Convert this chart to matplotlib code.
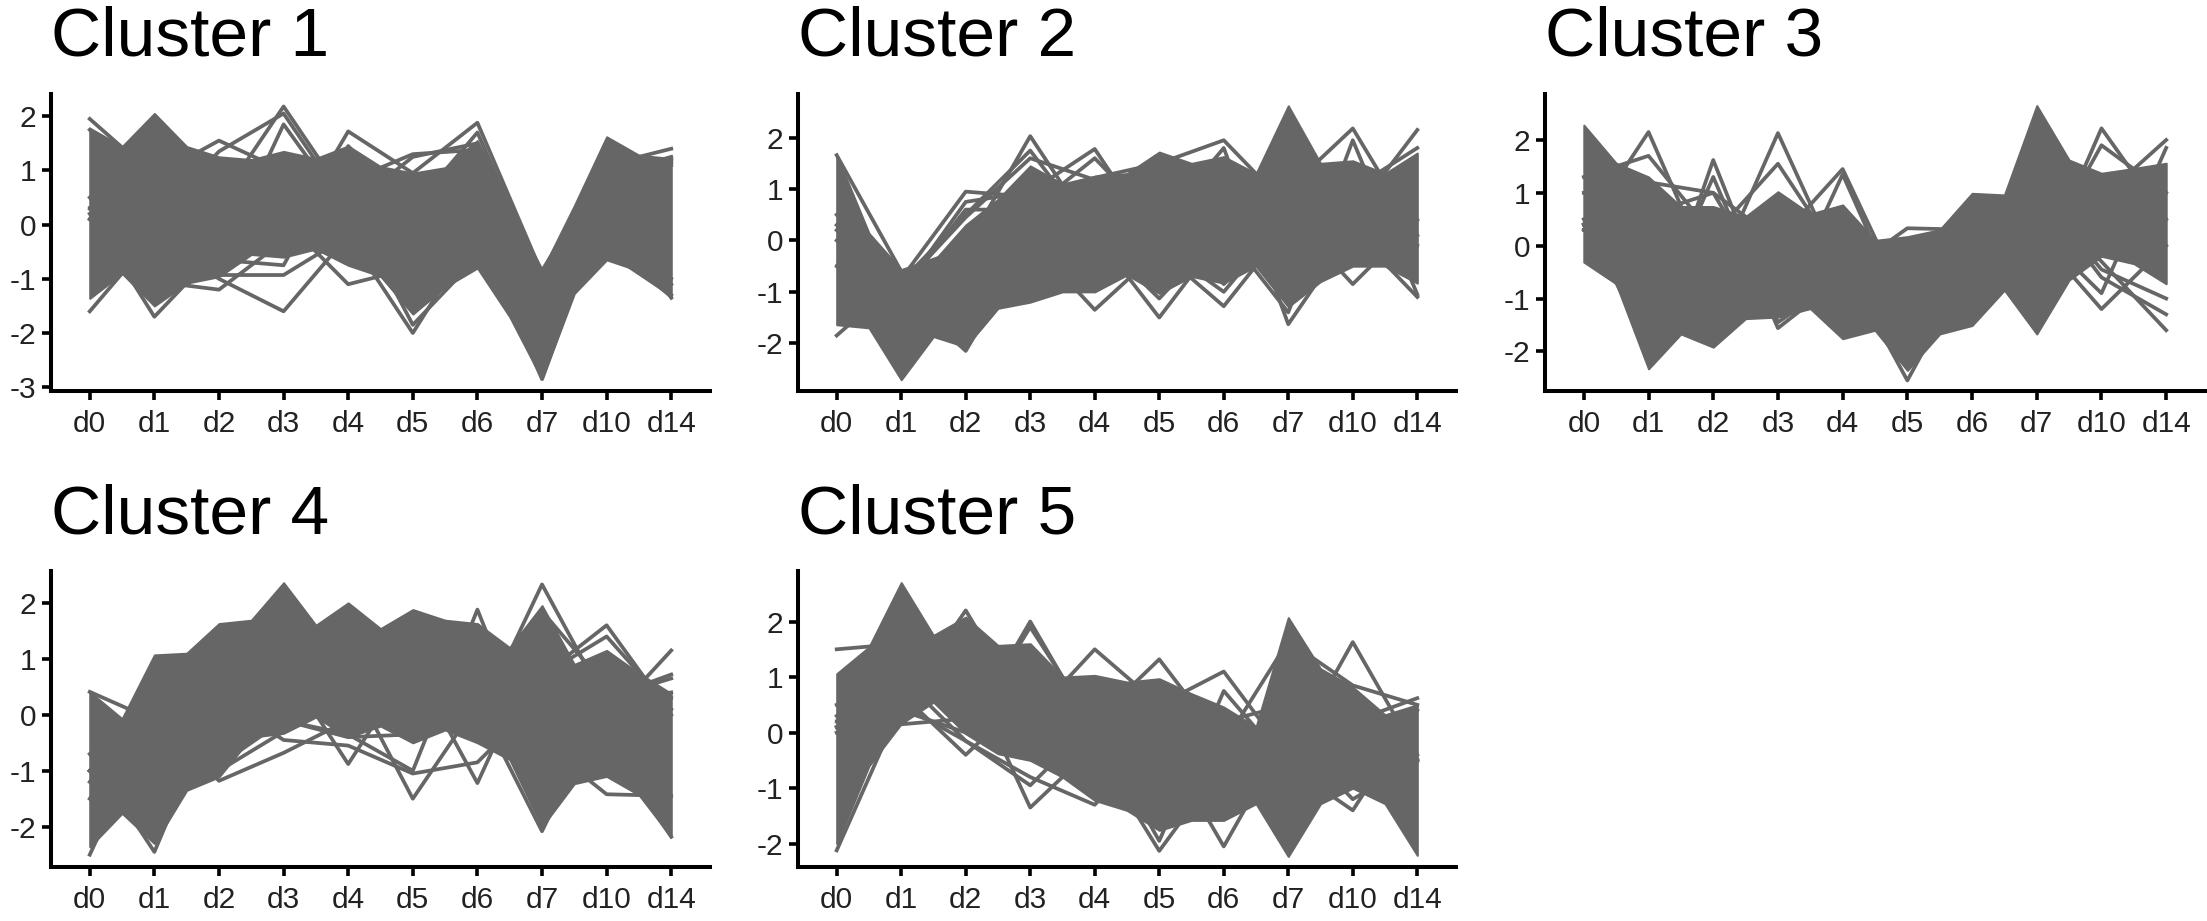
"""Recreate the five-panel cluster profile figure."""

import matplotlib

matplotlib.use("Agg")
import matplotlib.pyplot as plt

FIG_W, FIG_H = 2207, 921
GREY = "#666666"

DAYS = ["d0", "d1", "d2", "d3", "d4", "d5", "d6", "d7", "d10", "d14"]
BAND_X = [0, 0.5, 1, 1.5, 2, 2.5, 3, 3.5, 4, 4.5, 5, 5.5, 6, 6.5, 7, 7.5, 8, 8.5, 9]
TITLES = ["Cluster 1", "Cluster 2", "Cluster 3", "Cluster 4", "Cluster 5"]

TICKS_1 = [-3, -2, -1, 0, 1, 2]
TICKS_2 = [-2, -1, 0, 1, 2]
TICKS_3 = [-2, -1, 0, 1, 2]
TICKS_4 = [-2, -1, 0, 1, 2]
TICKS_5 = [-2, -1, 0, 1, 2]

# outer edge of the solid mass of lines, read at every half step
UPPER_1 = [1.78, 1.44, 2.05, 1.44, 1.25, 1.2, 1.35, 1.22, 1.45, 1.07, 0.95, 1.05, 1.55, 0.35, -0.85, 0.35, 1.62, 1.28, 1.22]
LOWER_1 = [-1.36, -0.9, -1.5, -1.08, -0.96, -0.55, -0.6, -0.45, -0.75, -0.95, -1.65, -1.15, -0.8, -1.7, -2.85, -1.27, -0.65, -0.85, -1.35]
UPPER_2 = [1.66, 0.14, -0.57, -0.41, 0.3, 0.8, 1.45, 1.1, 1.25, 1.3, 1.72, 1.5, 1.63, 1.3, 2.62, 1.5, 1.55, 1.3, 1.7]
LOWER_2 = [-1.64, -1.7, -2.71, -1.87, -2.07, -1.32, -1.2, -1.0, -1.0, -0.67, -1.03, -0.7, -0.83, -0.5, -1.29, -0.8, -0.5, -0.5, -0.83]
UPPER_3 = [2.28, 1.56, 1.3, 0.74, 0.74, 0.55, 1.02, 0.6, 0.77, 0.1, 0.17, 0.3, 0.99, 0.96, 2.65, 1.62, 1.37, 1.46, 1.56]
LOWER_3 = [-0.31, -0.72, -2.33, -1.67, -1.92, -1.38, -1.35, -1.19, -1.76, -1.6, -2.36, -1.67, -1.51, -0.84, -1.67, -0.65, -0.2, -0.34, -0.72]
UPPER_4 = [0.41, -0.07, 1.07, 1.1, 1.63, 1.69, 2.36, 1.6, 2.0, 1.54, 1.88, 1.69, 1.63, 1.2, 1.95, 0.9, 1.15, 0.74, 0.38]
LOWER_4 = [-2.36, -1.76, -2.3, -1.35, -1.11, -0.4, -0.33, -0.04, -0.4, -0.2, -0.5, -0.27, -0.5, -0.8, -2.0, -1.23, -1.1, -1.43, -2.18]
UPPER_5 = [1.06, 1.54, 2.7, 1.75, 2.08, 1.57, 1.6, 1.0, 1.03, 0.91, 0.97, 0.7, 0.46, 0.1, 2.07, 1.15, 0.82, 0.32, 0.5]
LOWER_5 = [-2.0, -0.6, 0.16, 0.55, -0.02, -0.38, -0.5, -0.8, -1.22, -1.4, -1.76, -1.58, -1.58, -1.28, -2.23, -1.28, -1.0, -1.28, -2.21]

# single profiles that stick out of the mass
LINES_1 = [
    [1.95, 0.9, 1.55, 1.0, 0.8, 1.3, 1.38, -0.85, 1.1, 1.4],
    [-1.6, -0.2, -1.0, -1.6, -0.2, -2.0, -0.1, -2.85, 0.45, -1.35],
    [1.75, 0.3, 0.42, 2.18, 0.42, -1.85, -0.6, -1.5, 0.9, 1.25],
    [0.2, -1.7, -0.45, 0.1, -1.1, -0.8, 1.0, -1.1, 0.6, 1.15],
    [0.5, -1.05, -1.2, -0.3, 1.72, 0.95, 1.88, -0.9, -0.5, -1.3],
    [0.3, 0.4, -0.93, -0.93, -0.2, 0.3, 1.7, -1.0, 0.5, 1.2],
    [0.3, 0.1, 1.35, 2.05, 0.3, 1.25, 1.5, -1.0, 1.0, -1.1],
    [0.1, -1.0, -0.7, 1.85, 0.2, 0.5, 1.4, -0.9, 0.8, 1.1],
    [0.1, -0.5, -0.65, -0.75, 1.45, 0.2, 0.3, -1.2, -0.55, -1.0],
]
LINES_2 = [
    [-1.85, -0.75, 0.95, 0.85, 1.22, 1.5, 1.95, 0.65, 0.2, -0.1],
    [1.66, -0.6, -0.15, 2.03, 0.13, -1.5, 0.15, 1.0, 2.18, 0.1],
    [0.5, -1.0, -2.15, 0.0, -1.35, -0.2, -1.28, 0.3, 0.5, 2.15],
    [0.0, -1.0, 0.75, 0.95, 1.78, -0.1, -1.0, 0.5, -0.85, 0.4],
    [0.2, -0.8, 0.5, 1.75, 0.1, -1.13, 0.2, -1.4, 1.95, -1.05],
    [-0.5, -1.0, 0.6, 0.6, 1.6, 0.3, 1.8, -1.63, 0.2, -1.1],
    [0.3, -0.9, 0.45, 1.6, 1.18, 0.3, -0.85, 0.4, 1.0, 1.8],
]
LINES_3 = [
    [0.3, 2.15, -0.64, 2.13, -0.55, 0.33, 0.3, -0.6, 2.22, 0.5],
    [1.3, 1.7, 0.2, 1.55, -0.3, -2.55, -0.3, -0.3, 1.9, 1.0],
    [1.0, 1.2, 1.0, 0.1, 1.45, -1.15, -0.3, 0.5, 0.9, 2.0],
    [0.5, -1.9, 1.62, -1.45, -0.6, -0.6, 0.2, 0.2, -1.2, 0.0],
    [0.4, -1.5, 1.3, -1.56, -0.6, -0.4, 0.1, 0.3, -0.9, 1.85],
    [0.3, 0.5, 0.3, -1.3, 1.35, -1.4, -0.2, 0.9, -0.3, -1.6],
    [0.4, 0.6, 1.0, -1.05, 0.0, -0.4, 0.3, 1.0, -0.6, -1.3],
    [0.4, 0.6, 0.3, -1.0, 0.1, -0.4, 0.3, 1.0, -0.45, -1.0],
]
LINES_4 = [
    [-2.5, 0.0, -1.18, -0.68, -0.1, -0.1, -0.25, -0.5, -1.42, -1.45],
    [0.41, -0.1, 0.1, 0.9, -0.88, 0.9, -1.22, 1.3, -0.5, -2.18],
    [-0.7, -2.45, 0.3, -0.45, -0.55, -1.05, -0.85, 0.3, -0.1, 1.15],
    [-1.5, 0.2, -1.0, -0.3, 0.7, -1.5, 0.2, -2.08, 0.3, 0.72],
    [-1.2, 0.5, -0.8, -0.1, -0.35, -1.0, 1.88, -1.0, 0.3, 0.65],
    [-1.0, 0.3, -0.9, -0.1, -0.4, -0.35, -0.1, 2.33, 0.2, 0.4],
    [-1.0, 0.3, -0.9, 0.2, 0.2, 0.1, 0.1, 1.85, 0.5, 0.3],
    [-1.0, 0.3, -0.9, 0.2, 0.2, 0.1, 0.3, 0.7, 1.6, 0.0],
    [-1.0, 0.3, -0.9, 0.2, 0.2, 0.1, 0.3, 0.7, 1.4, 0.1],
]
LINES_5 = [
    [1.5, 1.6, 0.0, 2.0, 0.0, 0.3, 0.2, 0.5, 0.2, 0.62],
    [0.2, 0.15, 0.25, 0.2, -0.5, -0.6, -0.8, -0.5, -0.5, -0.5],
    [0.1, 0.7, -0.4, 0.7, -0.3, -0.5, -0.5, -0.5, -0.5, -0.5],
    [0.3, 1.0, 1.15, -1.35, -0.25, -2.13, -0.55, 0.2, -0.3, -0.5],
    [-2.12, 0.5, 2.2, 0.25, 1.5, 0.5, 1.1, -0.45, 1.63, -0.4],
    [0.5, 1.0, -0.15, -0.95, 0.2, 1.32, -0.2, 1.65, 0.85, 0.5],
    [0.1, 0.4, 0.0, 1.9, 0.1, -1.95, 0.75, -0.6, -1.4, 0.4],
    [0.0, 0.5, -0.15, -0.8, -1.3, -0.05, -2.05, 0.0, -1.2, -0.5],
]

UPPERS = [UPPER_1, UPPER_2, UPPER_3, UPPER_4, UPPER_5]
LOWERS = [LOWER_1, LOWER_2, LOWER_3, LOWER_4, LOWER_5]
LINES = [LINES_1, LINES_2, LINES_3, LINES_4, LINES_5]
TICKS = [TICKS_1, TICKS_2, TICKS_3, TICKS_4, TICKS_5]

# panel boxes in pixels: left, right, top, bottom, ymin, ymax
BOXES = [
    (51, 710, 94, 391, -3.07, 2.41),
    (798, 1456, 94, 391, -2.93, 2.85),
    (1545, 2205, 94, 391, -2.75, 2.87),
    (51, 710, 571, 867, -2.72, 2.57),
    (798, 1456, 571, 867, -2.42, 2.91),
]
TITLE_BASE = [56, 56, 56, 533, 533]

plt.rcParams["font.family"] = ["Liberation Sans", "DejaVu Sans"]


def draw_panel(fig, idx):
    left, right, top, bottom, ymin, ymax = BOXES[idx]
    ax = fig.add_axes([left / FIG_W, 1 - bottom / FIG_H, (right - left) / FIG_W, (bottom - top) / FIG_H])

    ax.fill_between(BAND_X, LOWERS[idx], UPPERS[idx], color=GREY, linewidth=1.5, joinstyle="round")
    for row in LINES[idx]:
        ax.plot(range(len(DAYS)), row, color=GREY, linewidth=2.7, solid_joinstyle="round")

    ax.set_xlim(-0.6, 9.6)
    ax.set_ylim(ymin, ymax)
    ax.set_xticks(range(len(DAYS)))
    ax.set_xticklabels(DAYS)
    ax.set_yticks(TICKS[idx])
    ax.set_yticklabels([str(t) for t in TICKS[idx]])
    ax.tick_params(axis="both", labelsize=21.5, width=2.6, length=6.5, color="black", labelcolor="#222222")
    ax.tick_params(axis="x", pad=7)
    ax.tick_params(axis="y", pad=4)

    for side in ["top", "right"]:
        ax.spines[side].set_visible(False)
    for side in ["left", "bottom"]:
        ax.spines[side].set_linewidth(2.9)

    fig.text(left / FIG_W, 1 - TITLE_BASE[idx] / FIG_H, TITLES[idx], fontsize=50, color="black", ha="left", va="baseline")


fig = plt.figure(figsize=(FIG_W / 100, FIG_H / 100), dpi=100, facecolor="white")
for i in range(len(TITLES)):
    draw_panel(fig, i)
fig.savefig("out.png", dpi=100)
